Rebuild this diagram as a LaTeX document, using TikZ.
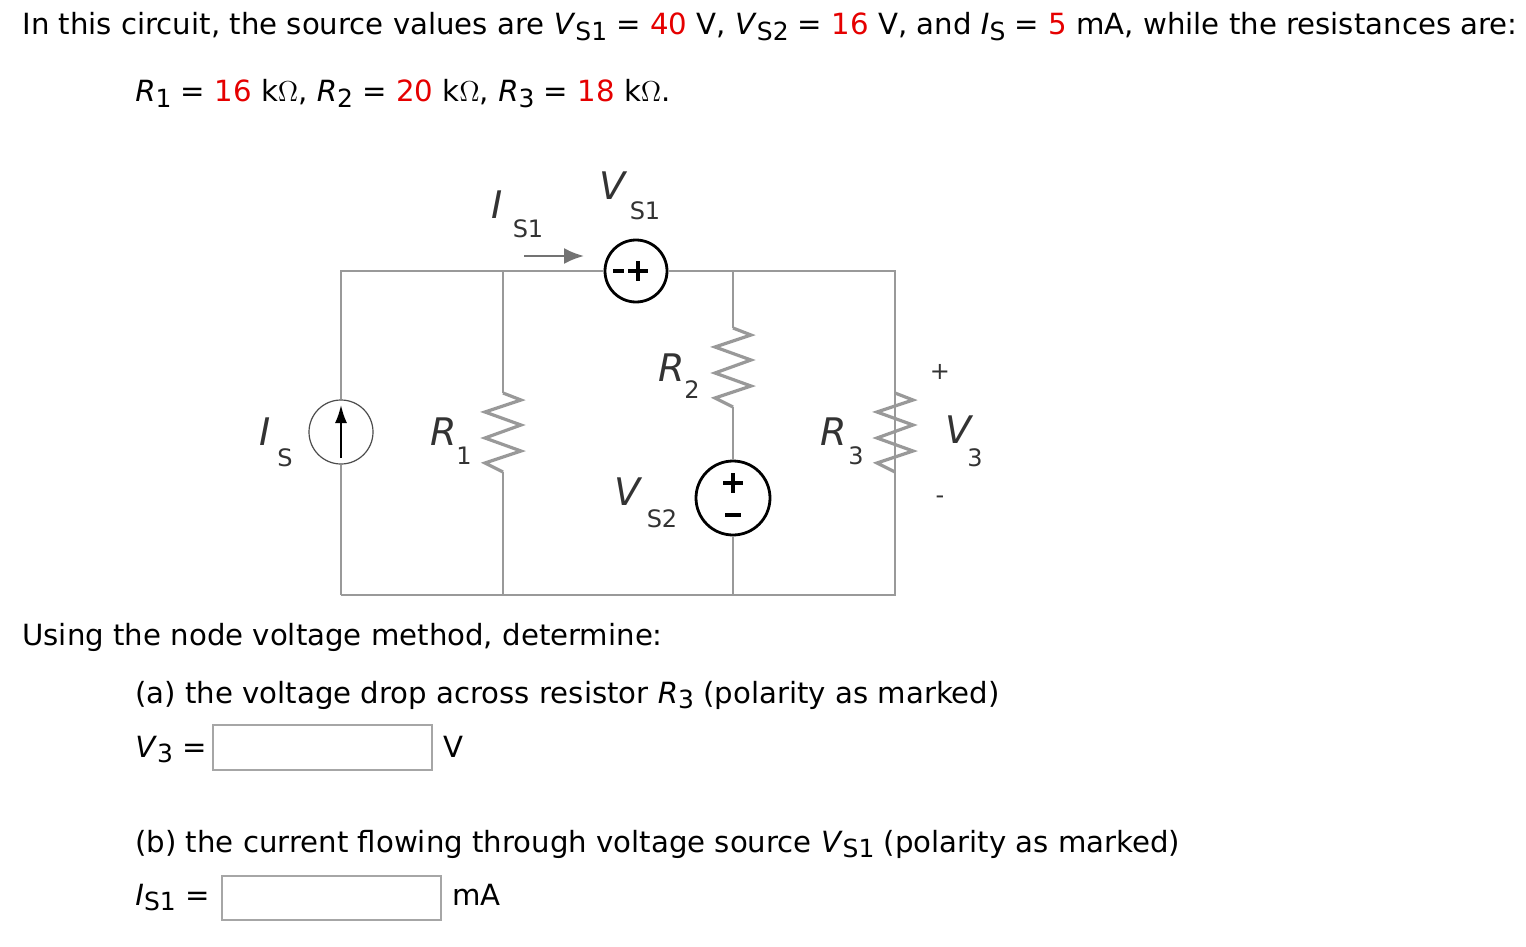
\documentclass[tikz,border=0pt]{standalone}
\usepackage{fontspec}
\setmainfont{DejaVu Sans}
\usetikzlibrary{arrows.meta}
\begin{document}
\begin{tikzpicture}[x=0.5pt,y=-0.5pt,
  txt/.style={anchor=base west,inner sep=0pt,font=\fontsize{14.6}{17}\selectfont},
  lab/.style={inner sep=0pt,font=\fontsize{19}{21}\selectfont\itshape,text=black!80},
  sub/.style={inner sep=0pt,font=\fontsize{12}{14}\selectfont,text=black!80},
  wire/.style={draw=black!40,line width=1.2pt},
  box/.style={draw=black!35,line width=0.6pt}]
\useasboundingbox (0,0) rectangle (1526,947);
\def\r#1{\textcolor{red!90!black}{#1}}
\def\q#1#2{\textit{#1}\raisebox{-0.35ex}{\fontsize{12.5}{14}\selectfont #2}}
% text
\node[txt] (t1) at (22,35) {In this circuit, the source values are \q{V}{S1} = \r{40} V, \q{V}{S2} = \r{16} V, and \q{I}{S} = \r{5} mA, while the resistances are:};
\node[txt] (t2) at (135,102) {\q{R}{1} = \r{16} k$\Omega$, \q{R}{2} = \r{20} k$\Omega$, \q{R}{3} = \r{18} k$\Omega$.};
\node[txt] (t3) at (22,645) {Using the node voltage method, determine:};
\node[txt] (t4) at (135,703) {(a) the voltage drop across resistor \q{R}{3} (polarity as marked)};
\node[txt] (t5) at (135,757) {\q{V}{3} =};
\draw[box] (213,725) rectangle (432,770);
\node[txt] (t6) at (443,757) {V};
\node[txt] (t7) at (135,852) {(b) the current flowing through voltage source \q{V}{S1} (polarity as marked)};
\node[txt] (t8) at (135,905) {\q{I}{S1} =};
\draw[box] (222,876) rectangle (441,920);
\node[txt] (t9) at (452,905) {mA};
% circuit coordinates
\coordinate (tl) at (341,271); \coordinate (bl) at (341,595);
\coordinate (t1c) at (503,271); \coordinate (b1) at (503,595);
\coordinate (t2c) at (733,271); \coordinate (b2) at (733,595);
\coordinate (tr) at (895,271); \coordinate (br) at (895,595);
\node[circle,draw=black!70,line width=0.6pt,minimum size=32pt,inner sep=0pt] (is) at (341,432) {};
\node[circle,draw=black,line width=1.4pt,minimum size=31pt,inner sep=0pt] (vs1) at (636,271) {};
\node[circle,draw=black,line width=1.4pt,minimum size=37pt,inner sep=0pt] (vs2) at (733,498) {};
\draw[wire] (bl) -- (is.south); \draw[wire] (is.north) -- (tl) -- (vs1.west);
\draw[wire] (vs1.east) -- (tr) -- (br) -- (bl);
\draw[wire] (t1c) -- (503,393); \draw[wire] (503,472) -- (b1);
\draw[wire,line width=1.6pt] (503,393) -- (521,400) -- (485,412) -- (521,425) -- (485,438) -- (521,451) -- (485,463) -- (503,472);
\draw[wire] (t2c) -- (733,328); \draw[wire] (733,407) -- (vs2.north); \draw[wire] (vs2.south) -- (b2);
\draw[wire,line width=1.6pt] (733,328) -- (751,335) -- (715,347) -- (751,360) -- (715,373) -- (751,386) -- (715,398) -- (733,407);
\draw[wire,line width=1.6pt] (895,393) -- (913,400) -- (877,412) -- (913,425) -- (877,438) -- (913,451) -- (877,463) -- (895,472);
% source symbols
\draw[black,line width=1pt,-{Latex[length=9pt,width=6pt]}] (341,458) -- (341,405);
\draw[black,line width=2.4pt] (613,271) -- (624,271);
\draw[black,line width=2.4pt] (628,271) -- (648,271) (638,261) -- (638,281);
\draw[black,line width=2.4pt] (723,483) -- (743,483) (733,473) -- (733,493) (725,515) -- (741,515);
\draw[black!55,line width=1.2pt,-{Latex[length=10pt,width=8pt]}] (524,256) -- (584,256);
% labels
\node[lab] (lis) at (265,432) {I};
\node[sub] (lis2) at (285,458) {S};
\node[lab] (lr1) at (444,432) {R};
\node[sub] (lr12) at (464,456) {1};
\node[lab] (lr2) at (672,368) {R};
\node[sub] (lr22) at (692,390) {2};
\node[lab] (lr3) at (834,432) {R};
\node[sub] (lr32) at (856,456) {3};
\node[lab] (lv3) at (958,430) {V};
\node[sub] (lv32) at (975,458) {3};
\node[sub] (pl) at (940,372) {+};
\node[sub] (mi) at (940,500) {-};
\node[lab] (lvs1) at (612,186) {V};
\node[sub] (lvs12) at (645,211) {S1};
\node[lab] (lis1) at (497,205) {I};
\node[sub] (lis12) at (528,229) {S1};
\node[lab] (lvs2) at (627,492) {V};
\node[sub] (lvs22) at (662,519) {S2};
\end{tikzpicture}
\end{document}
